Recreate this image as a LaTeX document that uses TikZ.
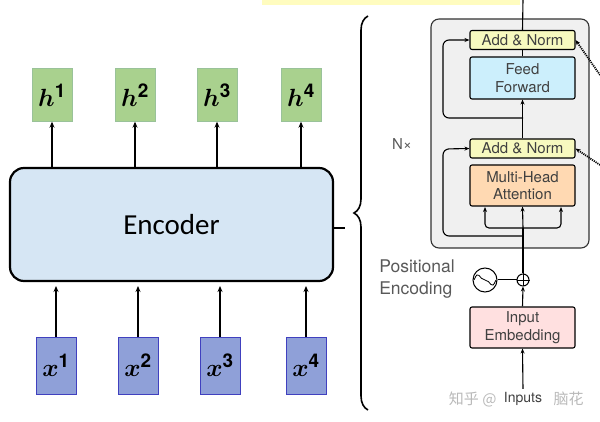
\documentclass[tikz,border=0pt]{standalone}
\usepackage{fontspec}
\usepackage{amsmath,bm}
\setmainfont{TeX Gyre Heros}
\newfontfamily\carfont{Carlito}
\newfontfamily\cjk{Noto Sans CJK SC}
\usetikzlibrary{arrows.meta,decorations.pathreplacing}
\begin{document}
\begin{tikzpicture}[x=1pt,y=-1pt,
 hbox/.style={draw=green!40!black!40,fill={rgb,255:red,169;green,209;blue,142},minimum width=40pt,minimum height=53pt,inner sep=0pt,font=\fontsize{27}{30}\selectfont},
 xbox/.style={draw=blue!50!gray,fill={rgb,255:red,143;green,160;blue,216},minimum width=40pt,minimum height=57pt,inner sep=0pt,font=\fontsize{27}{30}\selectfont},
 arr/.style={-{Stealth[length=6pt,width=5pt]},line width=1.3pt},
 blk/.style={draw,line width=1.1pt,rounded corners=2pt,minimum width=105pt,inner sep=0pt,font=\fontsize{15}{17.5}\selectfont,align=center,text=black!75},
 thin/.style={-{Stealth[length=5pt,width=4pt]},line width=1.1pt}]
\useasboundingbox (0,0) rectangle (600,422);
\fill[yellow!25] (262,0) rectangle (520,5);
% left
\node[draw,line width=2.2pt,rounded corners=14pt,fill={rgb,255:red,214;green,230;blue,244},minimum width=323pt,minimum height=113pt,font=\carfont\fontsize{29}{32}\selectfont] (enc) at (171.5,224.5) {Encoder};
\foreach \i/\hx/\xx in {1/52/56,2/135/138,3/217/220,4/301/306}{
 \node[hbox] (h\i) at (\hx,95) {$\bm{h}^{\mathbf{\i}}$};
 \node[xbox] (x\i) at (\xx,365.5) {$\bm{x}^{\mathbf{\i}}$};
 \draw[arr] (h\i.south |- enc.north) -- (h\i.south);
 \draw[arr] (x\i.north) -- (x\i.north |- 0,286);
}
\coordinate (bt) at (345,228);
\draw[line width=1.3pt] (enc.east|-bt) -- (bt);
\draw[line width=1.6pt,decorate,decoration={brace,amplitude=14pt}] (368,410) -- (368,16);
% right
\fill[gray!12,draw=black!80,line width=1.1pt,rounded corners=8pt] (431,19) rectangle (589,248);
\node[blk,fill=yellow!50!lime!25,minimum height=19pt] (an1) at (522.5,40) {Add \& Norm};
\node[blk,fill=cyan!20,minimum height=42pt] (ff) at (522.5,78) {Feed\\Forward};
\node[blk,fill=yellow!50!lime!25,minimum height=19pt] (an2) at (522.5,148.5) {Add \& Norm};
\node[blk,fill=orange!30,minimum height=41pt] (mha) at (522.5,185.5) {Multi-Head\\Attention};
\node[blk,fill=red!12,minimum height=41pt] (ie) at (522.5,327.5) {Input\\Embedding};
\node[draw,circle,line width=1pt,minimum size=12pt,inner sep=0pt] (plus) at (523,280) {};
\draw[line width=0.8pt] (plus.north)--(plus.south) (plus.west)--(plus.east);
\node[draw,circle,line width=1pt,minimum size=24pt,inner sep=0pt] (pe) at (485,280) {};
\draw[line width=0.8pt] ([xshift=-11pt]pe.center) .. controls (479,268) and (479,280) .. (pe.center) .. controls (491,280) and (491,292) .. ([xshift=11pt]pe.center);
\draw[line width=1pt] (pe.east) -- (plus.west);
\node[font=\fontsize{17.5}{22}\selectfont,text=black!65,align=left] (pet) at (417,279) {Positional\\Encoding};
\node[font=\fontsize{15}{17}\selectfont,text=black!65] (nx) at (402,144) {N×};
\node[font=\fontsize{14}{16}\selectfont,text=black!75] (inp) at (523,399) {Inputs};
\node[font=\cjk\fontsize{15}{17}\selectfont,text=gray!55,anchor=east] (wm1) at (500,399) {知乎 @};
\node[font=\cjk\fontsize{15}{17}\selectfont,text=gray!55,anchor=west] (wm2) at (550,399) {脑花};
\draw[thin] (inp.north) -- (ie.south);
\draw[thin] (ie.north) -- (plus.south);
\draw[line width=1.1pt] (plus.north) -- (523,228) coordinate (sp);
\draw[thin] (sp) -- (mha.south);
\draw[thin,rounded corners=4pt] (sp) -| (485,207);
\draw[thin,rounded corners=4pt] (sp) -| (561,207);
\draw[thin,rounded corners=6pt] (523,236) -| (443,149) -- (an2.west);
\draw[thin] (an2.north) -- (ff.south);
\draw[thin,rounded corners=6pt] (523,118) -| (443,40) -- (an1.west);
\draw[line width=1.1pt] (ff.north) -- (an1.south);
\draw[line width=1.1pt] (an1.north) -- (523,0);
\draw[thin,densely dotted,line width=1.8pt] (600,75) -- (an1.east);
\draw[thin,densely dotted,line width=1.8pt] (600,165) -- (an2.east);
\end{tikzpicture}
\end{document}
